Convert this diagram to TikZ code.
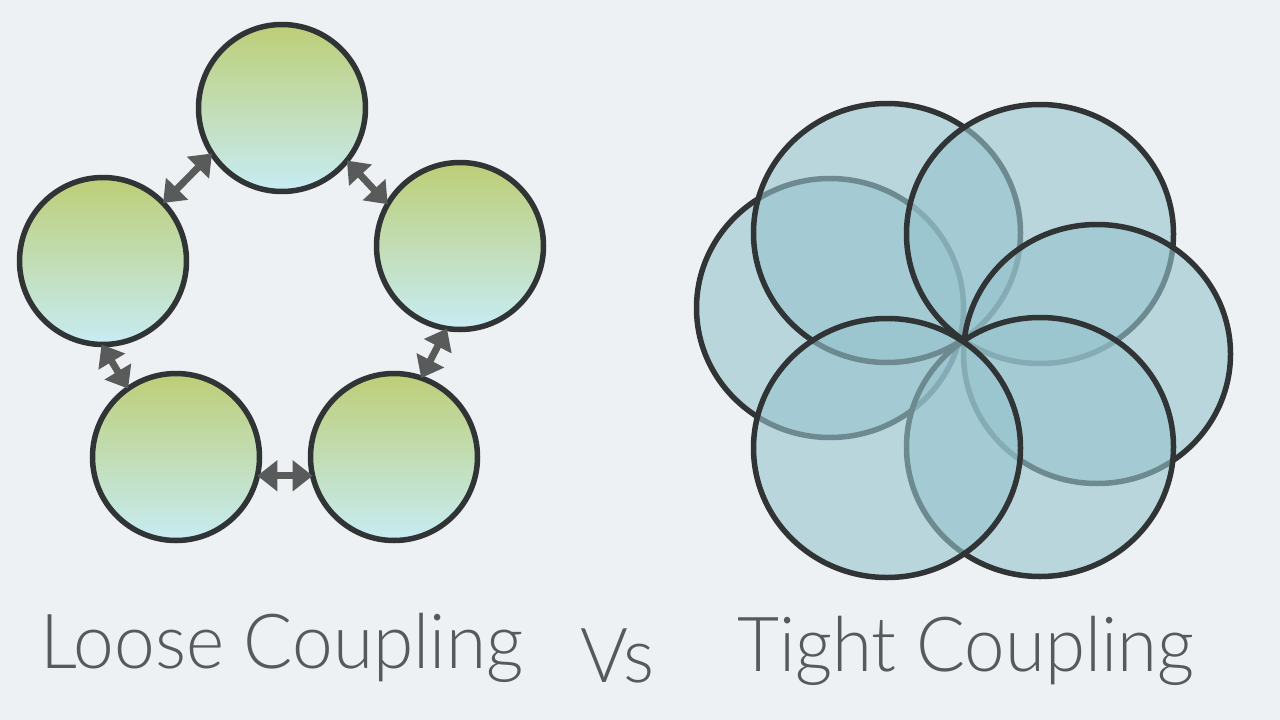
\documentclass[tikz,border=0pt]{standalone}
\usepackage{fontspec}
\newfontfamily\gill{Lato Light}
\usetikzlibrary{arrows.meta}
\definecolor{bg}{HTML}{EEF1F4}
\definecolor{ring}{HTML}{313435}
\definecolor{gtop}{HTML}{BDCE76}
\definecolor{gmid}{HTML}{C2DAAC}
\definecolor{gbot}{HTML}{C7ECF4}
\definecolor{arrowc}{HTML}{595B5B}
\definecolor{petalc}{HTML}{96C4CE}
\definecolor{txt}{HTML}{58595B}
\begin{document}
\begin{tikzpicture}[x=1pt,y=-1pt,
  ball/.style={circle, draw=ring, line width=5.5pt, minimum size=167pt, inner sep=0pt, outer sep=0pt,
    top color=gtop, middle color=gmid, bottom color=gbot},
  arr/.style={{Triangle[length=20pt,width=30pt]}-{Triangle[length=20pt,width=30pt]}, line width=7pt, draw=arrowc},
  petal/.style={draw=ring, line width=5.5pt, fill=petalc, fill opacity=0.6},
  lbl/.style={text=txt, inner sep=0pt, anchor=base west, font=\gill\fontsize{76}{80}\selectfont}]
\fill[bg] (0,0) rectangle (1280,720);
\useasboundingbox (0,0) rectangle (1280,720);
% loose coupling
\node[ball] (T)  at (282,108) {};
\node[ball] (UL) at (103,261) {};
\node[ball] (UR) at (460,246) {};
\node[ball] (LL) at (176,457) {};
\node[ball] (LR) at (394,457) {};
\draw[arr] (T.213) -- (UL.44);
\draw[arr] (T.321) -- (UR.150);
\draw[arr] (UL.269) -- (LL.125);
\draw[arr] (UR.261) -- (LR.71);
\draw[arr] (LL.347) -- (LR.193);
% tight coupling
\path[petal] (830,308) ellipse [x radius=133.5pt, y radius=129.5pt];
\path[petal] (887,233) ellipse [x radius=133.5pt, y radius=129.5pt];
\path[petal] (1040,234) ellipse [x radius=133.5pt, y radius=129.5pt];
\path[petal] (1097,354) ellipse [x radius=133.5pt, y radius=129.5pt];
\path[petal] (1040,447) ellipse [x radius=133.5pt, y radius=129.5pt];
\path[petal] (887,448) ellipse [x radius=133.5pt, y radius=129.5pt];
% labels
\node[lbl] (loose) at (40,668) {\scalebox{0.96}[1]{Loose Coupling}};
\node[lbl] (vs) at (580,682) {\scalebox{0.96}[1]{Vs}};
\node[lbl] (tight) at (737,671) {\scalebox{0.955}[1]{Tight Coupling}};
\end{tikzpicture}
\end{document}
